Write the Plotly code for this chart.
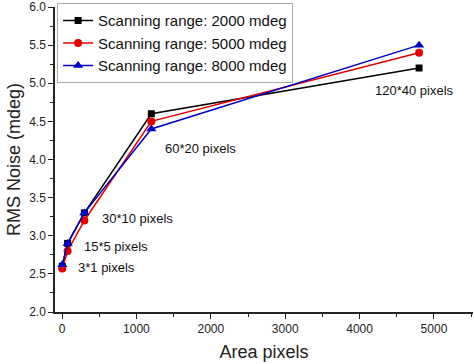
import plotly.graph_objects as go

area = [3, 75, 300, 1200, 4800]
rms_2000 = [2.60, 2.90, 3.30, 4.60, 5.20]
rms_5000 = [2.57, 2.80, 3.20, 4.50, 5.40]
rms_8000 = [2.62, 2.90, 3.30, 4.40, 5.50]
names = ["Scanning range: 2000 mdeg", "Scanning range: 5000 mdeg", "Scanning range: 8000 mdeg"]
labels = ["3*1 pixels", "15*5 pixels", "30*10 pixels", "60*20 pixels", "120*40 pixels"]
label_x = [598, 726, 1008, 1855, 4745]
label_y = [2.59, 2.865, 3.22, 4.15, 4.90]

fig = go.Figure()
styles = [("#000000", "square", 7), ("#e00000", "circle", 8), ("#0000c0", "triangle-up", 9)]
for ys, nm, (c, sym, sz) in zip([rms_2000, rms_5000, rms_8000], names, styles):
    fig.add_trace(go.Scatter(x=area, y=ys, name=nm, mode="lines+markers",
                             line=dict(color=c, width=1.5),
                             marker=dict(color=c, symbol=sym, size=sz)))

for t, x, y in zip(labels, label_x, label_y):
    fig.add_annotation(x=x, y=y, text=t, showarrow=False, xref="x", yref="y",
                       font=dict(size=13, color="#111", family="Arial"))

fig.update_layout(
    width=474, height=364,
    margin=dict(l=55, r=1, t=7, b=52, autoexpand=False),
    paper_bgcolor="white", plot_bgcolor="white",
    font=dict(family="Arial", color="#222"),
    showlegend=True,
    legend=dict(x=0.005, y=1.012, xanchor="left", yanchor="top",
                bordercolor="#aaaaaa", borderwidth=1, bgcolor="white",
                font=dict(size=15, color="#111"), tracegroupgap=0,
                itemwidth=30),
    xaxis=dict(range=[-95, 5525], tickvals=[0, 1000, 2000, 3000, 4000, 5000],
               showgrid=False, zeroline=False, showline=True, linecolor="#222", linewidth=1.5,
               ticks="outside", ticklen=5, tickcolor="#222", tickfont=dict(size=12, color="#222"),
               minor=dict(dtick=500, tick0=0, ticks="outside", ticklen=3, tickcolor="#222"),
               title=dict(text="Area pixels", font=dict(size=18, color="#222"), standoff=10)),
    yaxis=dict(range=[2.0, 6.0], dtick=0.5, tickformat=".1f",
               showgrid=False, zeroline=False, showline=True, linecolor="#222", linewidth=1.5,
               ticks="outside", ticklen=5, tickcolor="#222", tickfont=dict(size=12, color="#222"),
               minor=dict(dtick=0.25, ticks="outside", ticklen=3, tickcolor="#222"),
               title=dict(text="RMS Noise (mdeg)", font=dict(size=18, color="#222"), standoff=4)),
)
fig.write_html("out.html", config={"displayModeBar": False},
               post_script="document.body.style.margin='0';")
